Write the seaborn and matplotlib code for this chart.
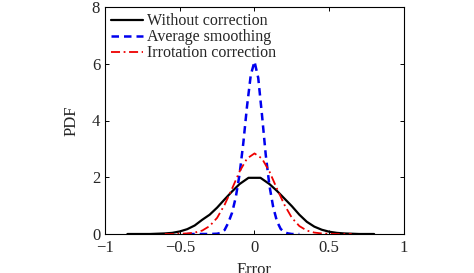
# PDF of the error for three correction methods

import pandas as pd
import matplotlib
matplotlib.use("Agg")
import matplotlib.pyplot as plt
import seaborn as sns

# values
black_x = [-0.85, -0.8, -0.75, -0.7, -0.65, -0.6, -0.55, -0.5, -0.45, -0.4, -0.35, -0.3,
           -0.25, -0.2, -0.15, -0.1, -0.04, 0.04, 0.1, 0.15, 0.2, 0.25, 0.3, 0.35, 0.4,
           0.45, 0.5, 0.55, 0.6, 0.65, 0.7, 0.75, 0.8]
black_y = [0.0, 0.0, 0.0, 0.0, 0.01, 0.02, 0.04, 0.09, 0.17, 0.3, 0.5, 0.68,
           0.93, 1.22, 1.5, 1.76, 1.98, 1.98, 1.76, 1.52, 1.25, 0.98, 0.68, 0.43, 0.26,
           0.15, 0.08, 0.04, 0.02, 0.01, 0.0, 0.0, 0.0]

blue_x = [-0.45, -0.4, -0.35, -0.3, -0.25, -0.225, -0.2, -0.175, -0.15, -0.125, -0.1,
          -0.075, -0.05, -0.025, 0.0, 0.025, 0.05, 0.075, 0.1, 0.125, 0.15, 0.175,
          0.2, 0.225, 0.25, 0.3]
blue_y = [0.0, 0.0, 0.0, 0.0, 0.01, 0.04, 0.14, 0.4, 0.75, 1.3, 2.1,
          3.2, 4.5, 5.6, 6.08, 5.5, 4.2, 2.8, 1.7, 0.95, 0.45, 0.18,
          0.06, 0.02, 0.0, 0.0]

red_x = [-0.6, -0.55, -0.5, -0.45, -0.4, -0.35, -0.3, -0.25, -0.2, -0.15, -0.1, -0.05,
         0.0, 0.05, 0.1, 0.15, 0.2, 0.25, 0.3, 0.35, 0.4, 0.45, 0.5, 0.55, 0.6, 0.65]
red_y = [0.0, 0.0, 0.01, 0.02, 0.05, 0.12, 0.28, 0.57, 1.03, 1.6, 2.2, 2.66,
         2.84, 2.66, 2.2, 1.6, 1.03, 0.57, 0.28, 0.12, 0.05, 0.02, 0.01, 0.0, 0.0, 0.0]

labels = ["Without correction", "Average smoothing", "Irrotation correction"]
x_ticks = [-1, -0.5, 0, 0.5, 1]
y_ticks = [0, 2, 4, 6, 8]

sns.set_theme(style="ticks", rc={
    "xtick.direction": "in", "ytick.direction": "in",
    "xtick.top": True, "ytick.right": True,
    "axes.linewidth": 0.8, "axes.edgecolor": "black",
})
plt.rcParams["font.family"] = ["Liberation Serif", "DejaVu Serif"]

fig = plt.figure(figsize=(4.74, 2.73), dpi=100)
ax = fig.add_axes([105 / 474, 39 / 273, 299 / 474, 227 / 273])

sns.lineplot(x=black_x, y=black_y, ax=ax, color="black", lw=1.6, label=labels[0], sort=False)
sns.lineplot(x=blue_x, y=blue_y, ax=ax, color="#0000ee", lw=1.8, ls=(0, (3, 2)), label=labels[1], sort=False)
sns.lineplot(x=red_x, y=red_y, ax=ax, color="#ee0000", lw=1.3, ls=(0, (5, 2, 1, 2)), label=labels[2], sort=False)

ax.set_xlim(-1, 1)
ax.set_ylim(0, 8)
ax.set_xticks(x_ticks)
ax.set_xticklabels(["\u22121", "\u22120.5", "0", "0.5", "1"])
ax.set_yticks(y_ticks)
ax.tick_params(labelsize=12, length=3, width=0.7, color="black")
ax.tick_params(axis="x", pad=4)
ax.set_xlabel("Error", fontsize=12, labelpad=5)
ax.set_ylabel("PDF", fontsize=12, labelpad=9)
for s in ax.spines.values():
    s.set_visible(True)

ax.legend(loc="upper left", frameon=False, fontsize=11.5, handlelength=2.0,
          handletextpad=0.25, labelspacing=0.0, borderaxespad=0.2, borderpad=0.2)

fig.savefig("out.png", dpi=100)
